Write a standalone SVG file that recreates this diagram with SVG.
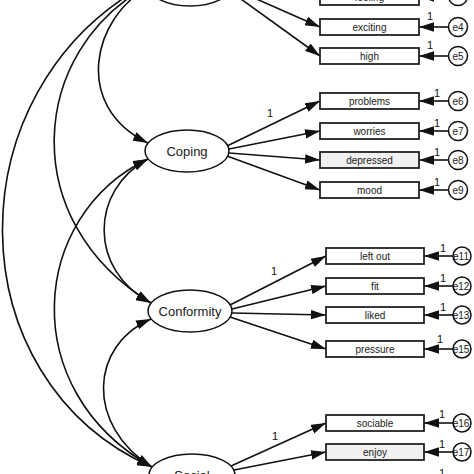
<svg xmlns="http://www.w3.org/2000/svg" width="474" height="474" viewBox="0 0 474 474">
<style>
.lat{fill:#fff;stroke:#111;stroke-width:1.5}
.box{fill:#fff;stroke:#222;stroke-width:1.8}
.gbox{fill:#f1f1f1;stroke:#222;stroke-width:1.8}
.err{fill:#fff;stroke:#111;stroke-width:1.5}
.ln{fill:none;stroke:#111;stroke-width:1.6}
text{font-family:"Liberation Sans",Arial,sans-serif;fill:#1a1a1a;text-anchor:middle}
.t13{font-size:13px}
.t10{font-size:10px}
.t11{font-size:11px;fill:#111}
</style>
<defs>
<marker id="ah" markerUnits="userSpaceOnUse" markerWidth="15" markerHeight="10" refX="15" refY="5" orient="auto-start-reverse" viewBox="0 0 15 10"><path d="M0,0.3 L15,5 L0,9.7 z" fill="#111"/></marker>
</defs>
<rect width="474" height="474" fill="#fff"/>
<g id="connectors">
<path class="ln" marker-start="url(#ah)" marker-end="url(#ah)" d="M148,-12 C95,15 70,105 148,143"/>
<path class="ln" marker-start="url(#ah)" marker-end="url(#ah)" d="M148,-14 C30,50 15,220 151,303"/>
<path class="ln" marker-start="url(#ah)" marker-end="url(#ah)" d="M147,-16 C-48,90 -45,380 152,467"/>
<path class="ln" marker-start="url(#ah)" marker-end="url(#ah)" d="M148,159 C90,190 88,270 151,303"/>
<path class="ln" marker-start="url(#ah)" marker-end="url(#ah)" d="M148,159 C30,215 15,390 152,467"/>
<path class="ln" marker-start="url(#ah)" marker-end="url(#ah)" d="M151,319 C90,345 85,425 152,467"/>
<line class="ln" marker-end="url(#ah)" x1="238" y1="-14" x2="320" y2="-3"/>
<line class="ln" marker-end="url(#ah)" x1="236" y1="-10" x2="320" y2="27"/>
<line class="ln" marker-end="url(#ah)" x1="234" y1="-6" x2="320" y2="56"/>
<line class="ln" marker-end="url(#ah)" x1="227" y1="146" x2="320" y2="101"/>
<line class="ln" marker-end="url(#ah)" x1="229" y1="149" x2="320" y2="131"/>
<line class="ln" marker-end="url(#ah)" x1="229" y1="153" x2="320" y2="160"/>
<line class="ln" marker-end="url(#ah)" x1="227" y1="156" x2="320" y2="190"/>
<line class="ln" marker-end="url(#ah)" x1="230" y1="305" x2="326" y2="256"/>
<line class="ln" marker-end="url(#ah)" x1="232" y1="309" x2="326" y2="286"/>
<line class="ln" marker-end="url(#ah)" x1="232" y1="313" x2="326" y2="315"/>
<line class="ln" marker-end="url(#ah)" x1="230" y1="317" x2="326" y2="349"/>
<line class="ln" marker-end="url(#ah)" x1="231" y1="466" x2="326" y2="423"/>
<line class="ln" marker-end="url(#ah)" x1="234" y1="470" x2="326" y2="452"/>
<line class="ln" marker-end="url(#ah)" x1="448.5" y1="-3" x2="419" y2="-3"/>
<line class="ln" marker-end="url(#ah)" x1="448.5" y1="27" x2="419" y2="27"/>
<line class="ln" marker-end="url(#ah)" x1="448.5" y1="56" x2="419" y2="56"/>
<line class="ln" marker-end="url(#ah)" x1="448.5" y1="101" x2="419" y2="101"/>
<line class="ln" marker-end="url(#ah)" x1="448.5" y1="131" x2="419" y2="131"/>
<line class="ln" marker-end="url(#ah)" x1="448.5" y1="160" x2="419" y2="160"/>
<line class="ln" marker-end="url(#ah)" x1="448.5" y1="190" x2="419" y2="190"/>
<line class="ln" marker-end="url(#ah)" x1="453" y1="256" x2="424" y2="256"/>
<line class="ln" marker-end="url(#ah)" x1="453" y1="286" x2="424" y2="286"/>
<line class="ln" marker-end="url(#ah)" x1="453" y1="315" x2="424" y2="315"/>
<line class="ln" marker-end="url(#ah)" x1="453" y1="349" x2="424" y2="349"/>
<line class="ln" marker-end="url(#ah)" x1="453" y1="423" x2="424" y2="423"/>
<line class="ln" marker-end="url(#ah)" x1="453" y1="452" x2="424" y2="452"/>
<text class="t11" x="270" y="117">1</text>
<text class="t11" x="274" y="275">1</text>
<text class="t11" x="275" y="440">1</text>
<text class="t11" x="430" y="20">1</text>
<text class="t11" x="430" y="49">1</text>
<text class="t11" x="437" y="97">1</text>
<text class="t11" x="437" y="127">1</text>
<text class="t11" x="437" y="156">1</text>
<text class="t11" x="437" y="186">1</text>
<text class="t11" x="443" y="252">1</text>
<text class="t11" x="443" y="282">1</text>
<text class="t11" x="443" y="311">1</text>
<text class="t11" x="440" y="343">1</text>
<text class="t11" x="442" y="418">1</text>
<text class="t11" x="442" y="448">1</text>
<text class="t11" x="442" y="477">1</text>
</g>
<g id="enhancement"><ellipse class="lat" cx="190" cy="-15" rx="42" ry="21"/></g>
<g id="coping"><ellipse class="lat" cx="187" cy="151" rx="42" ry="21"/><text class="t13" x="187" y="155.5">Coping</text></g>
<g id="conformity"><ellipse class="lat" cx="190" cy="311" rx="42" ry="21"/><text class="t13" x="190" y="315.5">Conformity</text></g>
<g id="social"><ellipse class="lat" cx="192" cy="475" rx="43" ry="21"/><text class="t13" x="192" y="480">Social</text></g>
<g id="feeling"><rect class="box" x="320" y="-11" width="99" height="16"/><text class="t10" x="369.5" y="1">feeling</text></g>
<g id="exciting"><rect class="box" x="320" y="19" width="99" height="16"/><text class="t10" x="369.5" y="30.5">exciting</text></g>
<g id="high"><rect class="box" x="320" y="48" width="99" height="16"/><text class="t10" x="369.5" y="59.5">high</text></g>
<g id="problems"><rect class="box" x="320" y="93" width="99" height="16"/><text class="t10" x="369.5" y="104.5">problems</text></g>
<g id="worries"><rect class="box" x="320" y="123" width="99" height="16"/><text class="t10" x="369.5" y="134.5">worries</text></g>
<g id="depressed"><rect class="gbox" x="320" y="152" width="99" height="16"/><text class="t10" x="369.5" y="163.5">depressed</text></g>
<g id="mood"><rect class="box" x="320" y="182" width="99" height="16"/><text class="t10" x="369.5" y="193.5">mood</text></g>
<g id="leftout"><rect class="box" x="326" y="248" width="98" height="16"/><text class="t10" x="375" y="259.5">left out</text></g>
<g id="fit"><rect class="box" x="326" y="278" width="98" height="16"/><text class="t10" x="375" y="289.5">fit</text></g>
<g id="liked"><rect class="box" x="326" y="307" width="98" height="16"/><text class="t10" x="375" y="318.5">liked</text></g>
<g id="pressure"><rect class="box" x="326" y="341" width="98" height="16"/><text class="t10" x="375" y="352.5">pressure</text></g>
<g id="sociable"><rect class="box" x="326" y="415" width="98" height="16"/><text class="t10" x="375" y="426.5">sociable</text></g>
<g id="enjoy"><rect class="gbox" x="326" y="444" width="98" height="16"/><text class="t10" x="375" y="455.5">enjoy</text></g>
<g id="e3"><circle class="err" cx="458" cy="-4" r="9.5"/></g>
<g id="e4"><circle class="err" cx="458" cy="27" r="9.5"/><text class="t10" x="458" y="30.5">e4</text></g>
<g id="e5"><circle class="err" cx="458" cy="56" r="9.5"/><text class="t10" x="458" y="59.5">e5</text></g>
<g id="e6"><circle class="err" cx="458" cy="101" r="9.5"/><text class="t10" x="458" y="104.5">e6</text></g>
<g id="e7"><circle class="err" cx="458" cy="131" r="9.5"/><text class="t10" x="458" y="134.5">e7</text></g>
<g id="e8"><circle class="err" cx="458" cy="160" r="9.5"/><text class="t10" x="458" y="163.5">e8</text></g>
<g id="e9"><circle class="err" cx="458" cy="190" r="9.5"/><text class="t10" x="458" y="193.5">e9</text></g>
<g id="e11"><circle class="err" cx="462" cy="256" r="9"/><text class="t10" x="461" y="259.5">e11</text></g>
<g id="e12"><circle class="err" cx="462" cy="286" r="9"/><text class="t10" x="461" y="289.5">e12</text></g>
<g id="e13"><circle class="err" cx="462" cy="315" r="9"/><text class="t10" x="461" y="318.5">e13</text></g>
<g id="e15"><circle class="err" cx="462" cy="349" r="9"/><text class="t10" x="461" y="352.5">e15</text></g>
<g id="e16"><circle class="err" cx="462" cy="423" r="9"/><text class="t10" x="461" y="426.5">e16</text></g>
<g id="e17"><circle class="err" cx="462" cy="452" r="9"/><text class="t10" x="461" y="455.5">e17</text></g>
</svg>
